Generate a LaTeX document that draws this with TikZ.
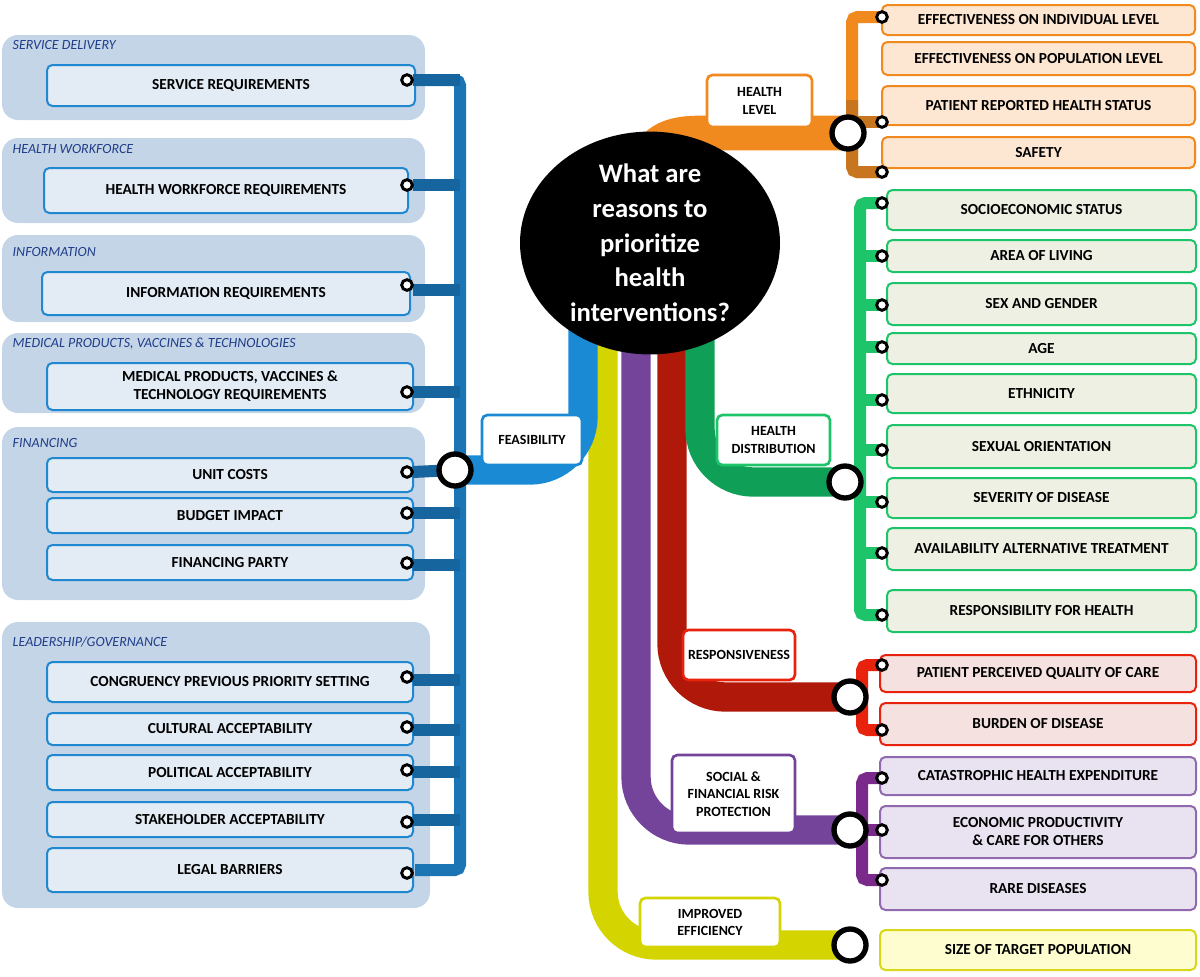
\documentclass[tikz,border=0pt]{standalone}
\usepackage{fontspec}
\setmainfont{Carlito}
\usetikzlibrary{shapes.geometric}
\definecolor{pnl}{HTML}{C5D5E8}
\definecolor{lfill}{HTML}{E3EBF5}
\definecolor{lbord}{HTML}{1F88D0}
\definecolor{ltrunk}{HTML}{1B75B5}
\definecolor{lbr}{HTML}{17659E}
\definecolor{feas}{HTML}{1A8AD4}
\definecolor{plab}{HTML}{1F3C88}
\definecolor{org}{HTML}{F08A1E}
\definecolor{orgd}{HTML}{C87520}
\definecolor{ofill}{HTML}{FDE6D2}
\definecolor{grn}{HTML}{0F9F57}
\definecolor{grnl}{HTML}{1EC46A}
\definecolor{gfill}{HTML}{EEF0E3}
\definecolor{red1}{HTML}{B0190A}
\definecolor{redl}{HTML}{E8220C}
\definecolor{rfill}{HTML}{F5E1DF}
\definecolor{pur}{HTML}{74449A}
\definecolor{purd}{HTML}{7A2A8A}
\definecolor{pfill}{HTML}{E9E3F1}
\definecolor{yel}{HTML}{D4D400}
\definecolor{yfill}{HTML}{FDFDD0}
\newcommand{\bx}[7]{\node[#6,minimum width={(#4-#2)*0.75pt},minimum height={(#5-#3)*0.75pt}] (#1) at ({(#2+#4)/2},{(#3+#5)/2}) {#7};}
\tikzset{
  box/.style={draw,rounded corners=4pt,line width=1.5pt,inner sep=0pt,align=center,font=\fontsize{11.5}{13.5}\selectfont\bfseries},
  lb/.style={box,draw=lbord,fill=lfill},
  ob/.style={box,draw=org,fill=ofill},
  gb/.style={box,draw=grnl,fill=gfill},
  rb/.style={box,draw=redl,fill=rfill},
  pb/.style={box,draw=pur!80,fill=pfill},
  yb/.style={box,draw=yel!90,fill=yfill},
  cat/.style={box,fill=white,line width=2pt,font=\fontsize{10.5}{13}\selectfont\bfseries},
  panel/.style={fill=pnl,rounded corners=12pt,draw=none},
  plabel/.style={anchor=west,text=plab,font=\fontsize{10.5}{12}\selectfont\itshape},
  dot/.style={circle,draw=black,fill=white,line width=2.2pt,minimum size=8pt,inner sep=0pt},
  bigdot/.style={circle,draw=black,fill=white,line width=4pt,minimum size=24pt,inner sep=0pt},
  trunk/.style={line width=22pt,rounded corners=40pt},
  br/.style={line width=9pt,rounded corners=4pt},
}
\begin{document}
\begin{tikzpicture}[x=0.75pt,y=-0.75pt]
\useasboundingbox (0,0) rectangle (1200,976);
% left panels
\fill[panel] (2,35) rectangle (425,120);
\fill[panel] (2,138) rectangle (425,223);
\fill[panel] (2,235) rectangle (425,322);
\fill[panel] (2,333) rectangle (425,413);
\fill[panel] (2,427) rectangle (425,600);
\fill[panel] (2,622) rectangle (430,908);
\node[plabel] (p1) at (8,45) {SERVICE DELIVERY};
\node[plabel] (p2) at (8,149) {HEALTH WORKFORCE};
\node[plabel] (p3) at (8,252) {INFORMATION};
\node[plabel] (p4) at (8,344) {MEDICAL PRODUCTS, VACCINES \& TECHNOLOGIES};
\node[plabel] (p5) at (8,443) {FINANCING};
\node[plabel] (p6) at (8,642) {LEADERSHIP/GOVERNANCE};
% main trunks
\coordinate (yA) at (603,330); \coordinate (yB) at (603,945); \coordinate (yC) at (850,945);
\draw[trunk,yel] (yA) -- (yB) -- (yC);
\coordinate (pA) at (636,330); \coordinate (pB) at (636,830); \coordinate (pC) at (850,830);
\draw[trunk,pur] (pA) -- (pB) -- (pC);
\coordinate (rA) at (672,330); \coordinate (rB) at (672,697); \coordinate (rC) at (850,697);
\draw[trunk,red1] (rA) -- (rB) -- (rC);
\coordinate (gA) at (700,330); \coordinate (gB) at (700,482); \coordinate (gC) at (845,482);
\draw[trunk,grn] (gA) -- (gB) -- (gC);
\coordinate (fA) at (583,330); \coordinate (fB) at (583,470); \coordinate (fC) at (455,470);
\draw[trunk,feas] (fA) -- (fB) -- (fC);
\coordinate (oA) at (640,175); \coordinate (oB) at (700,133); \coordinate (oC) at (848,133);
\draw[line width=26pt,org] (oA) .. controls (650,140) and (670,133) .. (oB) -- (oC);
% centre
\node[ellipse,fill=black,minimum width=195pt,minimum height=162pt,inner sep=0pt,text=white,align=center,font=\fontsize{20}{26}\selectfont\bfseries] (c) at (650,243) {What are\\reasons to\\prioritize\\health\\interventions?};
% left trunk
\draw[line width=9pt,ltrunk,rounded corners=4pt] (415,80) -- (460,80) -- (460,870) -- (415,870);
% left boxes
\bx{s1}{47}{65}{415}{106}{lb}{SERVICE REQUIREMENTS}
\bx{s2}{44}{168}{408}{213}{lb}{HEALTH WORKFORCE REQUIREMENTS}
\bx{s3}{42}{272}{410}{315}{lb}{INFORMATION REQUIREMENTS}
\bx{s4}{47}{363}{413}{410}{lb}{MEDICAL PRODUCTS, VACCINES \&\\TECHNOLOGY REQUIREMENTS}
\bx{s5}{47}{458}{413}{492}{lb}{UNIT COSTS}
\bx{s6}{47}{498}{413}{533}{lb}{BUDGET IMPACT}
\bx{s7}{47}{545}{413}{580}{lb}{FINANCING PARTY}
\bx{s8}{47}{662}{413}{702}{lb}{CONGRUENCY PREVIOUS PRIORITY SETTING}
\bx{s9}{47}{713}{413}{745}{lb}{CULTURAL ACCEPTABILITY}
\bx{s10}{47}{755}{413}{790}{lb}{POLITICAL ACCEPTABILITY}
\bx{s11}{47}{802}{413}{837}{lb}{STAKEHOLDER ACCEPTABILITY}
\bx{s12}{47}{848}{413}{892}{lb}{LEGAL BARRIERS}
\foreach \n/\y in {a1/80,a2/185,a3/290,a4/392,a6/513,a7/565,a8/680,a9/730,a10/772,a11/820}{
  \coordinate (t\n) at (460,\y);
  \draw[br,lbr] (413,\y) -- (t\n);
}
\draw[br,lbr] (413,472) -- (fC);
\foreach \n/\y in {1/80,2/185,3/285,4/392,5/472,6/513,7/563,8/677,9/727,10/770,11/822,12/873}{
  \node[dot] (ld\n) at (407,\y) {};
}
\node[bigdot] (bf) at (fC) {};
% orange sub
\draw[br,org] (882,17) -- (852,17) -- (852,172) -- (882,172);
\draw[br,orgd] (852,100) -- (852,172) -- (882,172);
\draw[br,orgd] (852,122) -- (882,122);
\bx{o1}{882}{5}{1195}{35}{ob}{EFFECTIVENESS ON INDIVIDUAL LEVEL}
\bx{o2}{882}{42}{1195}{75}{ob}{EFFECTIVENESS ON POPULATION LEVEL}
\bx{o3}{882}{86}{1195}{125}{ob}{PATIENT REPORTED HEALTH STATUS}
\bx{o4}{882}{137}{1195}{168}{ob}{SAFETY}
\node[dot] (od1) at (882,17) {};
\node[dot] (od3) at (882,122) {};
\node[dot] (od4) at (882,172) {};
\node[bigdot] (bo) at (oC) {};
% green sub
\draw[br,grnl] (882,203) -- (860,203) -- (860,615) -- (882,615);
\foreach \y in {256,305,347,400,450,502,553}{\draw[br,grnl] (860,\y) -- (882,\y);}
\bx{g1}{887}{190}{1196}{230}{gb}{SOCIOECONOMIC STATUS}
\bx{g2}{887}{240}{1196}{272}{gb}{AREA OF LIVING}
\bx{g3}{887}{283}{1196}{325}{gb}{SEX AND GENDER}
\bx{g4}{887}{333}{1196}{364}{gb}{AGE}
\bx{g5}{887}{374}{1196}{413}{gb}{ETHNICITY}
\bx{g6}{887}{425}{1196}{468}{gb}{SEXUAL ORIENTATION}
\bx{g7}{887}{478}{1196}{518}{gb}{SEVERITY OF DISEASE}
\bx{g8}{887}{528}{1196}{570}{gb}{AVAILABILITY ALTERNATIVE TREATMENT}
\bx{g9}{887}{590}{1196}{632}{gb}{RESPONSIBILITY FOR HEALTH}
\foreach \y in {203,256,305,347,400,450,502,553,615}{\node[dot] at (882,\y) {};}
\node[bigdot] (bg) at (gC) {};
% red sub
\draw[br,redl] (882,665) -- (862,665) -- (862,730) -- (882,730);
\bx{r1}{880}{655}{1196}{692}{rb}{PATIENT PERCEIVED QUALITY OF CARE}
\bx{r2}{880}{703}{1196}{745}{rb}{BURDEN OF DISEASE}
\node[dot] (rd1) at (882,665) {};
\node[dot] (rd2) at (882,730) {};
\node[bigdot] (brr) at (rC) {};
% purple sub
\draw[br,purd] (882,778) -- (862,778) -- (862,880) -- (882,880);
\draw[br,purd] (862,830) -- (882,830);
\bx{q1}{880}{757}{1196}{795}{pb}{CATASTROPHIC HEALTH EXPENDITURE}
\bx{q2}{880}{806}{1196}{858}{pb}{ECONOMIC PRODUCTIVITY\\\& CARE FOR OTHERS}
\bx{q3}{880}{868}{1196}{910}{pb}{RARE DISEASES}
\node[dot] (qd1) at (882,778) {};
\node[dot] (qd2) at (882,830) {};
\node[dot] (qd3) at (882,880) {};
\node[bigdot] (bp) at (pC) {};
% yellow
\bx{y1}{880}{930}{1196}{970}{yb}{SIZE OF TARGET POPULATION}
\node[bigdot] (by) at (yC) {};
% category boxes
\bx{c1}{707}{75}{812}{127}{cat,draw=org}{HEALTH\\LEVEL}
\bx{c2}{482}{415}{582}{465}{cat,draw=feas}{FEASIBILITY}
\bx{c3}{717}{415}{830}{465}{cat,draw=grnl}{HEALTH\\DISTRIBUTION}
\bx{c4}{683}{630}{795}{680}{cat,draw=redl}{RESPONSIVENESS}
\bx{c5}{672}{755}{795}{833}{cat,draw=pur}{SOCIAL \&\\FINANCIAL RISK\\PROTECTION}
\bx{c6}{640}{898}{780}{947}{cat,draw=yel}{IMPROVED\\EFFICIENCY}
\end{tikzpicture}
\end{document}
